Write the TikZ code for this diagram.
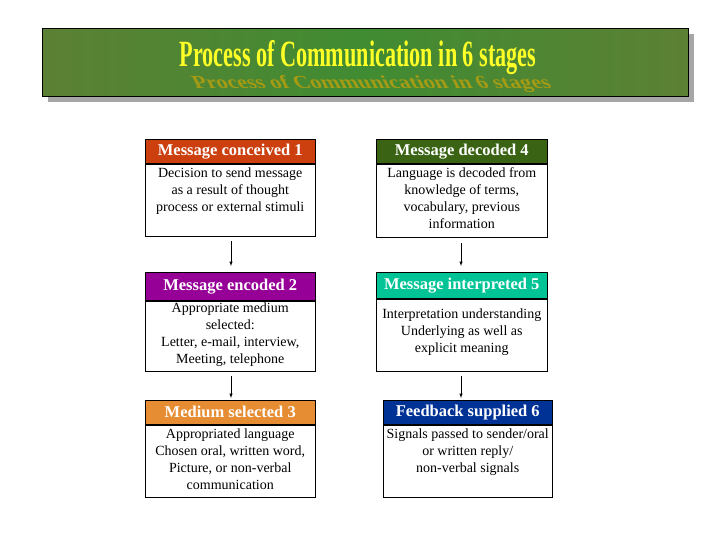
\documentclass[tikz,border=0pt]{standalone}
\usepackage{fontspec}
\setmainfont{Liberation Serif}
\newfontfamily\titlefont[FakeStretch=0.6]{Liberation Serif Bold}
\definecolor{hA}{RGB}{204,64,16}
\definecolor{hB}{RGB}{150,0,150}
\definecolor{hC}{RGB}{230,140,50}
\definecolor{hD}{RGB}{58,100,20}
\definecolor{hE}{RGB}{0,196,150}
\definecolor{hF}{RGB}{0,50,150}
\definecolor{gEdge}{RGB}{92,128,52}
\definecolor{gMid}{RGB}{64,140,50}
\definecolor{ttl}{RGB}{255,255,40}
\definecolor{ttlsh}{RGB}{165,155,20}
\begin{document}
\begin{tikzpicture}[x=1pt,y=-1pt,
  hdr/.style={draw=black,line width=0.5pt,text=white,font=\bfseries\fontsize{16.5}{18}\selectfont,anchor=north west,inner sep=0pt},
  bdy/.style={draw=black,line width=0.5pt,anchor=north west,inner sep=0pt},
  txt/.style={anchor=north,inner sep=0pt,font=\fontsize{14}{17}\selectfont,align=center},
  arr/.style={-latex,line width=0.5pt}]
\useasboundingbox (0,0) rectangle (728,546);
% banner
\fill[gray!70] (48,34) rectangle (694,102);
\shade[left color=gEdge,right color=gEdge,middle color=gMid] (42,28) rectangle (688,96);
\draw[black,line width=0.8pt] (42,28) rectangle (688,96);
\node[text=ttlsh,font=\titlefont\fontsize{37}{37}\selectfont,xslant=-0.5,yscale=0.5] (tsh) at (372,84) {Process of Communication in 6 stages};
\node[text=ttl,font=\titlefont\fontsize{37}{37}\selectfont] (title) at (358,58) {Process of Communication in 6 stages};
% left column
\node[hdr,fill=hA,minimum width=170pt,minimum height=24pt] (h1) at (145,139) {Message conceived 1};
\node[bdy,minimum width=170pt,minimum height=72pt,anchor=north] (b1) at (h1.south) {};
\node[txt] (t1) at ([yshift=-4pt]b1.north) {Decision to send message\\as a result of thought\\process or external stimuli};
\node[hdr,fill=hB,minimum width=170pt,minimum height=28pt] (h2) at (145,272) {Message encoded 2};
\node[bdy,minimum width=170pt,minimum height=70pt,anchor=north] (b2) at (h2.south) {};
\node[txt] (t2) at ([yshift=-2pt]b2.north) {Appropriate medium\\selected:\\Letter, e-mail, interview,\\Meeting, telephone};
\node[hdr,fill=hC,minimum width=170pt,minimum height=24pt] (h3) at (145,400) {Medium selected 3};
\node[bdy,minimum width=170pt,minimum height=72pt,anchor=north] (b3) at (h3.south) {};
\node[txt] (t3) at ([yshift=-4pt]b3.north) {Appropriated language\\Chosen oral, written word,\\Picture, or non-verbal\\communication};
% right column
\node[hdr,fill=hD,minimum width=171pt,minimum height=24pt] (h4) at (376,139) {Message decoded 4};
\node[bdy,minimum width=171pt,minimum height=73pt,anchor=north] (b4) at (h4.south) {};
\node[txt] (t4) at ([yshift=-4pt]b4.north) {Language is decoded from\\knowledge of terms,\\vocabulary, previous\\information};
\node[hdr,fill=hE,minimum width=171pt,minimum height=26pt] (h5) at (376,272) {Message interpreted 5};
\node[bdy,minimum width=171pt,minimum height=72pt,anchor=north] (b5) at (h5.south) {};
\node[txt] (t5) at ([yshift=-10pt]b5.north) {Interpretation understanding\\Underlying as well as\\explicit meaning};
\node[hdr,fill=hF,minimum width=169pt,minimum height=24pt] (h6) at (383,400) {Feedback supplied 6};
\node[bdy,minimum width=169pt,minimum height=72pt,anchor=north] (b6) at (h6.south) {};
\node[txt] (t6) at ([yshift=-4pt]b6.north) {Signals passed to sender/oral\\or written reply/\\non-verbal signals};
% arrows
\coordinate (a1s) at (231,241); \coordinate (a1e) at (231,266);
\coordinate (a2s) at (231,376); \coordinate (a2e) at (231,398);
\coordinate (a4s) at (461,243); \coordinate (a4e) at (461,266);
\coordinate (a5s) at (461,376); \coordinate (a5e) at (461,398);
\draw[arr] (a1s) -- (a1e);
\draw[arr] (a2s) -- (a2e);
\draw[arr] (a4s) -- (a4e);
\draw[arr] (a5s) -- (a5e);
\end{tikzpicture}
\end{document}
